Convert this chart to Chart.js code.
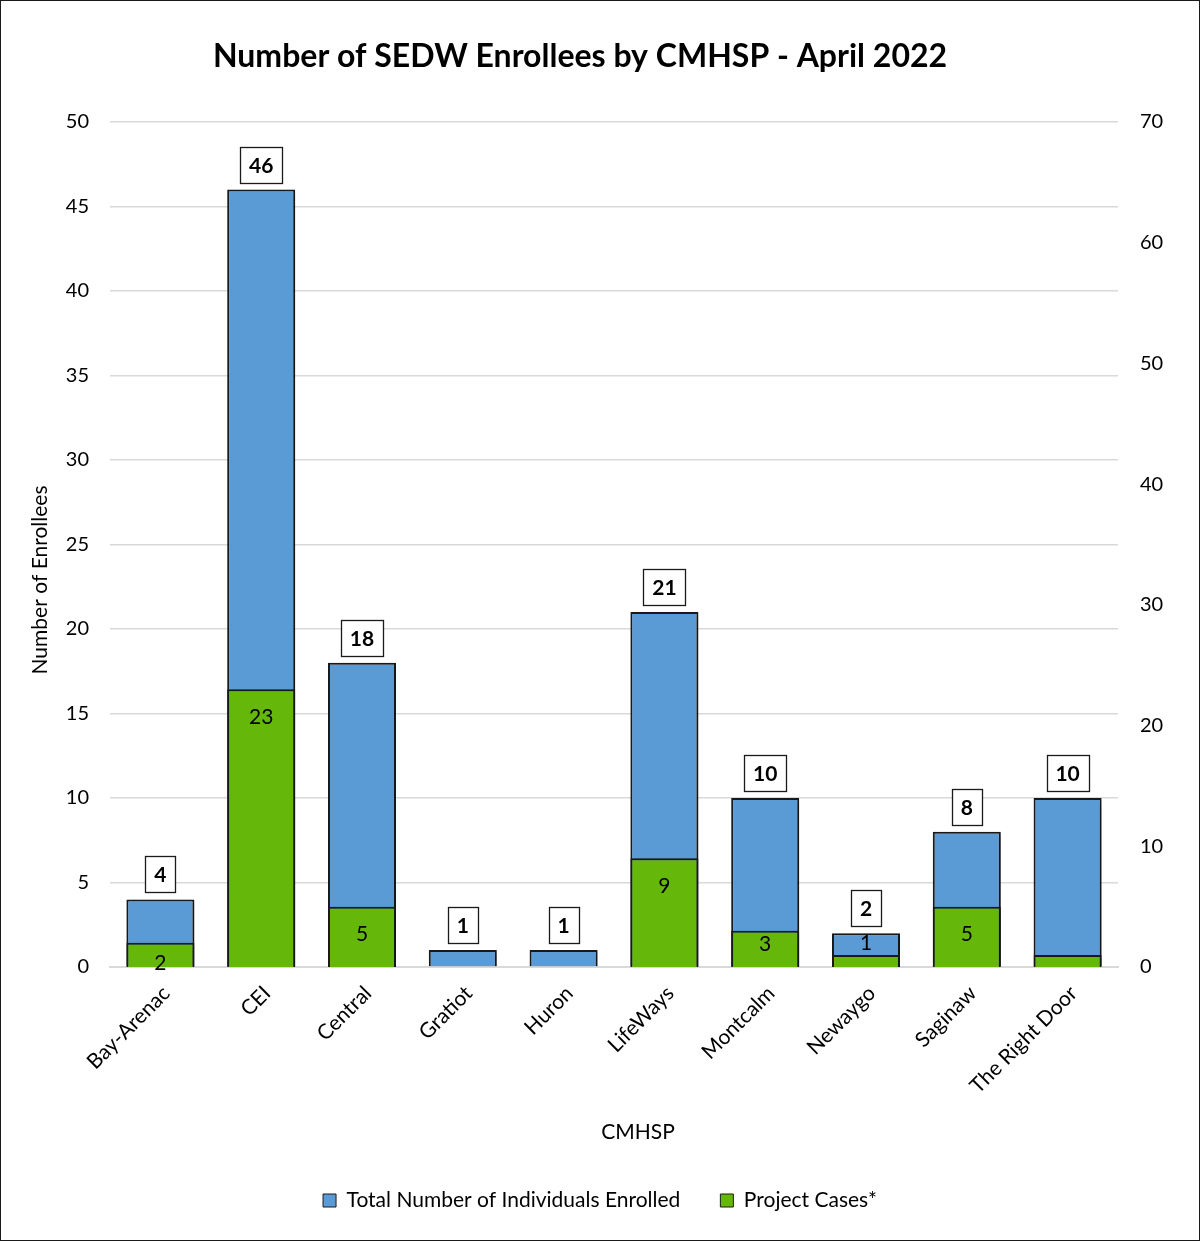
<!DOCTYPE html>
<html>
<head>
<meta charset="utf-8">
<script src="https://cdn.jsdelivr.net/npm/chart.js@4.4.1/dist/chart.umd.min.js"></script>
<style>
  html, body { margin: 0; padding: 0; background: #fff; }
  #wrap { width: 1198px; height: 1239px; border: 1px solid #1a1a1a; }
</style>
</head>
<body>
<div id="wrap"><canvas id="chart" width="1198" height="1239"></canvas></div>
<script>
/* Chart data. */
const categories = ["Bay-Arenac", "CEI", "Central", "Gratiot", "Huron", "LifeWays", "Montcalm", "Newaygo", "Saginaw", "The Right Door"];
const totalEnrolled = [4, 46, 18, 1, 1, 21, 10, 2, 8, 10];
const projectCases = [2, 23, 5, 0, 0, 9, 3, 1, 5, 1];
const projectLabels = ["2", "23", "5", "", "", "9", "3", "1", "5", ""];
const leftTicks = [0, 5, 10, 15, 20, 25, 30, 35, 40, 45, 50];
const rightTicks = [0, 10, 20, 30, 40, 50, 60, 70];

const titleText = "Number of SEDW Enrollees by CMHSP - April 2022";
const yTitleText = "Number of Enrollees";
const xTitleText = "CMHSP";

const FONT = "Lato, 'Open Sans', sans-serif";

/* Draws the chart title and the axis titles. */
const titles = {
	id: "titles",
	afterDraw: (chart) => {
		const ctx = chart.ctx;
		ctx.save();
		ctx.fillStyle = "#000";
		ctx.textAlign = "center";
		ctx.textBaseline = "middle";

		ctx.font = "bold 32px " + FONT;
		ctx.fillText(titleText, 579, 56);

		ctx.font = "21px " + FONT;
		ctx.fillText(xTitleText, 637, 1131);

		ctx.translate(39, 579);
		ctx.rotate(-Math.PI / 2);
		ctx.fillText(yTitleText, 0, 0);
		ctx.restore();
	},
};

/* Draws the value labels of both series. */
const valueLabels = {
	id: "valueLabels",
	beforeDatasetsDraw: (chart) => {
		const ctx = chart.ctx;
		ctx.save();
		ctx.shadowColor = "rgba(0,0,0,0.3)";
		ctx.shadowBlur = 5;
		ctx.shadowOffsetX = 2;
		ctx.shadowOffsetY = 2;
	},
	afterDatasetsDraw: (chart) => {
		const ctx = chart.ctx;
		ctx.restore();
		ctx.save();

		/* Totals, boxed above the bar. */
		const blue = chart.getDatasetMeta(0);
		ctx.font = "bold 21px " + FONT;
		ctx.textAlign = "center";
		ctx.textBaseline = "middle";
		blue.data.forEach((bar, i) => {
			const text = String(totalEnrolled[i]);
			const w = Math.round(ctx.measureText(text).width + 18);
			const h = 36;
			const bottom = Math.round(bar.y - 7);
			const left = Math.round(bar.x - w / 2);
			ctx.fillStyle = "#fff";
			ctx.fillRect(left, bottom - h, w, h);
			ctx.strokeStyle = "#1a1a1a";
			ctx.lineWidth = 1.3;
			ctx.strokeRect(left + 0.5, bottom - h + 0.5, w, h);
			ctx.fillStyle = "#000";
			ctx.fillText(text, bar.x, bottom - h / 2 + 1);
		});

		/* Project cases, inside the top of the bar. */
		const green = chart.getDatasetMeta(1);
		ctx.font = "21px " + FONT;
		green.data.forEach((bar, i) => {
			const text = projectLabels[i];
			if (!text) return;
			const h = bar.base - bar.y;
			let y;
			if (h >= 50) y = bar.y + 28;
			else if (h >= 30) y = bar.y + 0.38 * h;
			else if (h >= 18) y = bar.base - 4;
			else y = bar.y - 12;
			ctx.fillStyle = "#000";
			ctx.fillText(text, bar.x, y);
		});
		ctx.restore();
	},
};

new Chart(
	document.getElementById("chart"),
	{
		type: "bar",
		data:
		{
			labels: categories,
			datasets:
			[
				{
					label: "Total Number of Individuals Enrolled",
					data: totalEnrolled,
					yAxisID: "y",
					backgroundColor: "#5B9BD5",
					borderColor: "#1a1a1a",
					borderWidth: 2,
					order: 2,
				},
				{
					label: "Project Cases*",
					data: projectCases,
					yAxisID: "y2",
					backgroundColor: "#65B80A",
					borderColor: "#1a1a1a",
					borderWidth: 2,
					order: 1,
				},
			],
		},
		plugins: [valueLabels, titles],
		options:
		{
			responsive: false,
			animation: false,
			devicePixelRatio: 1,
			layout: { padding: { left: 0, right: 0, top: 121, bottom: 19 } },
			datasets: { bar: { grouped: false, categoryPercentage: 1, barPercentage: 0.675 } },
			plugins:
			{
				title: { display: false },
				legend:
				{
					position: "bottom",
					labels:
					{
						color: "#000",
						font: { family: FONT, size: 21 },
						boxWidth: 13,
						boxHeight: 13,
						padding: 40,
						sort: (a, b) => a.datasetIndex - b.datasetIndex,
						generateLabels: (chart) => chart.data.datasets.map((ds, i) => ({
							text: ds.label,
							fillStyle: ds.backgroundColor,
							strokeStyle: "#1a1a1a",
							lineWidth: 1,
							datasetIndex: i,
						})),
					},
				},
				tooltip: { enabled: false },
			},
			scales:
			{
				x:
				{
					grid: { display: false, drawTicks: false },
					border: { display: true, color: "#d9d9d9", width: 2 },
					ticks:
					{
						color: "#000",
						font: { family: FONT, size: 21 },
						minRotation: 45,
						maxRotation: 45,
						padding: 14,
						labelOffset: 6,
					},
					afterFit: (scale) => { scale.height = 183; },
				},
				y:
				{
					position: "left",
					min: 0,
					max: 50,
					afterBuildTicks: (scale) => { scale.ticks = leftTicks.map((v) => ({ value: v })); },
					grid: { color: "#d9d9d9", lineWidth: 1.5, drawTicks: false },
					border: { display: false },
					ticks: { color: "#000", font: { family: FONT, size: 20 }, padding: 21 },
					afterFit: (scale) => { scale.width = 109; },
				},
				y2:
				{
					position: "right",
					min: 0,
					max: 70,
					afterBuildTicks: (scale) => { scale.ticks = rightTicks.map((v) => ({ value: v })); },
					grid: { display: false, drawTicks: false },
					border: { display: false },
					ticks: { color: "#000", font: { family: FONT, size: 20 }, padding: 22 },
					afterFit: (scale) => { scale.width = 81; },
				},
			},
		},
	}
);
</script>
</body>
</html>
